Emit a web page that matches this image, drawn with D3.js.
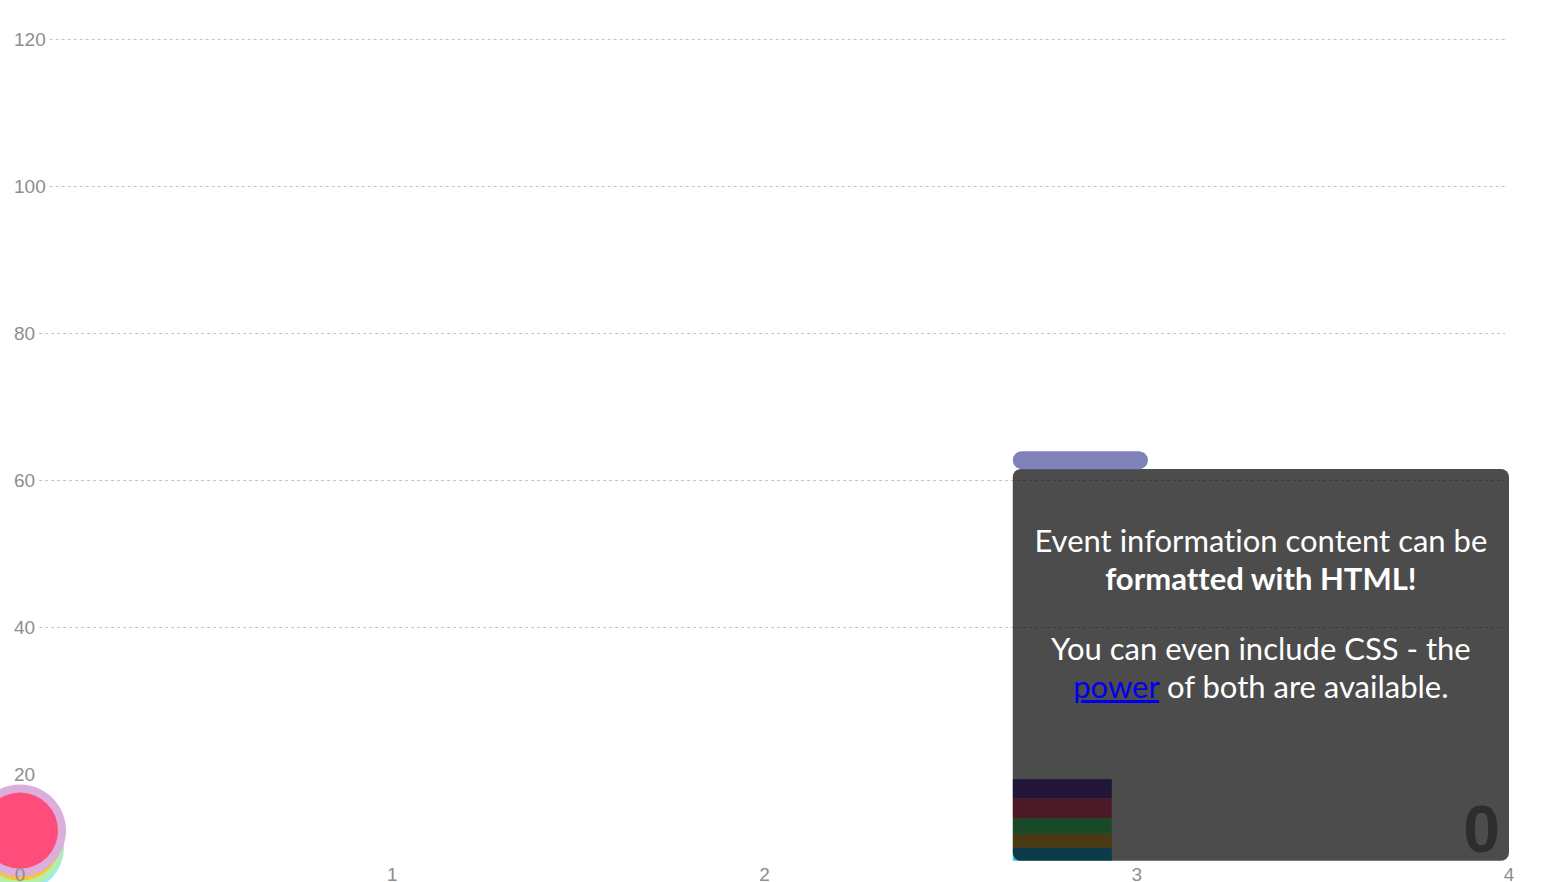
<!DOCTYPE html>
<html>
<head>
<meta charset="utf-8">
<script src="https://cdn.jsdelivr.net/npm/d3@7"></script>
<style>
  html, body { margin: 0; padding: 0; background: #fff; overflow: hidden; }
  svg { display: block; }
  .tip { font-family: Lato, sans-serif; font-size: 31px; line-height: 38px; color: #fff; text-align: center; padding-top: 52px; font-variant-ligatures: none; }
  .tip p { margin: 0; }
  .tip p + p { margin-top: 32px; }
  .tip a { color: #0000ee; text-decoration: underline; }
</style>
</head>
<body>
<div id="chart"></div>
<script>
const xTicks = [0, 1, 2, 3, 4];
const yTicks = [20, 40, 60, 80, 100, 120];
const gridTicks = [40, 60, 80, 100, 120];

// bubbles stacked at x = 0
const bubbleX = [0, 0, 0, 0, 0, 0];
const bubbleY = [10.0, 10.6, 11.2, 11.6, 12.3, 12.3];
const bubbleColors = ["#9fe8f0", "#b4f0a8", "#f2c83a", "#f2a444", "#dcaedc", "#ff4d7b"];

// event bar above the tooltip
const eventStart = [2.667];
const eventEnd = [3.03];
const eventValue = [62.7];

// stacked segments under the tooltip (bottom to top)
const stackStart = 2.667;
const stackEnd = 2.933;
const stackBase = 8.2;
const stackNames = ["cyan", "yellow", "green", "pink", "purple"];
const stackValues = [1.75, 1.9, 2.15, 2.7, 2.6];
const stackColors = ["#2ac1f5", "#f5c244", "#58f48c", "#ff5784", "#6e49c1"];

// tooltip extent in data units
const tipX = [2.667, 4];
const tipY = [61.5, 8.2];

const width = 1568, height = 882;

const x = d3.scaleLinear().domain([0, 4]).range([20, 1509]);
const y = d3.scaleLinear().domain([0, 120]).range([921, 39]);

const svg = d3.select("#chart").append("svg")
  .attr("width", width)
  .attr("height", height);

// y labels + grid
const yg = svg.append("g");
const labels = yg.selectAll("text").data(yTicks).enter().append("text")
  .attr("x", 14)
  .attr("y", d => y(d))
  .attr("dy", "0.36em")
  .style("font-family", "Liberation Sans, Arial, sans-serif")
  .style("font-size", "19px")
  .style("fill", "#8e8e8e")
  .text(d => d);

const labelEnd = {};
labels.each(function (d) { labelEnd[d] = 14 + this.getComputedTextLength(); });

yg.selectAll("line").data(gridTicks).enter().append("line")
  .attr("x1", d => labelEnd[d] + 4)
  .attr("x2", 1505)
  .attr("y1", d => Math.round(y(d)) + 0.5)
  .attr("y2", d => Math.round(y(d)) + 0.5)
  .style("stroke", "#c4c4c4")
  .style("stroke-dasharray", "3,3");

// stacked segments
let acc = stackBase;
const segs = stackValues.map((v, i) => {
  const s = { y0: acc, y1: acc + v, color: stackColors[i], name: stackNames[i] };
  acc += v;
  return s;
});
svg.append("g").selectAll("rect").data(segs).enter().append("rect")
  .attr("x", x(stackStart))
  .attr("width", x(stackEnd) - x(stackStart))
  .attr("y", d => y(d.y1))
  .attr("height", d => y(d.y0) - y(d.y1))
  .style("fill", d => d.color);

// tooltip box
svg.append("rect")
  .attr("x", x(tipX[0]))
  .attr("y", y(tipY[0]))
  .attr("width", x(tipX[1]) - x(tipX[0]))
  .attr("height", y(tipY[1]) - y(tipY[0]))
  .attr("rx", 8)
  .style("fill", "rgba(0,0,0,0.7)");

svg.append("text")
  .attr("x", x(tipX[1]) - 9)
  .attr("y", y(tipY[1]) - 9)
  .attr("text-anchor", "end")
  .style("font-family", "Liberation Sans, Arial, sans-serif")
  .style("font-weight", "bold")
  .style("font-size", "66px")
  .style("fill", "#2d2d2d")
  .text("0");

// bubbles
const radius = [44, 44, 42, 41, 46, 38];
svg.append("g").selectAll("circle").data(bubbleY).enter().append("circle")
  .attr("cx", (d, i) => x(bubbleX[i]))
  .attr("cy", d => y(d))
  .attr("r", (d, i) => radius[i])
  .style("fill", (d, i) => bubbleColors[i]);

// event pill
svg.append("g").selectAll("rect").data(eventValue).enter().append("rect")
  .attr("x", (d, i) => x(eventStart[i]))
  .attr("width", (d, i) => x(eventEnd[i]) - x(eventStart[i]))
  .attr("y", d => y(d) - 9)
  .attr("height", 18)
  .attr("rx", 9)
  .style("fill", "#7e82b8");

// x labels
svg.append("g").selectAll("text").data(xTicks).enter().append("text")
  .attr("x", d => x(d))
  .attr("y", 881)
  .attr("text-anchor", "middle")
  .style("font-family", "Liberation Sans, Arial, sans-serif")
  .style("font-size", "19px")
  .style("fill", "#8e8e8e")
  .text(d => d);

// tooltip content
svg.append("foreignObject")
  .attr("x", x(tipX[0]))
  .attr("y", y(tipY[0]))
  .attr("width", x(tipX[1]) - x(tipX[0]))
  .attr("height", y(tipY[1]) - y(tipY[0]))
  .append("xhtml:div")
  .attr("class", "tip")
  .html('<p>Event information content can be <b>formatted with HTML!</b></p>' +
        '<p>You can even include CSS - the <a href="#">power</a> of both are available.</p>');
</script>
</body>
</html>
